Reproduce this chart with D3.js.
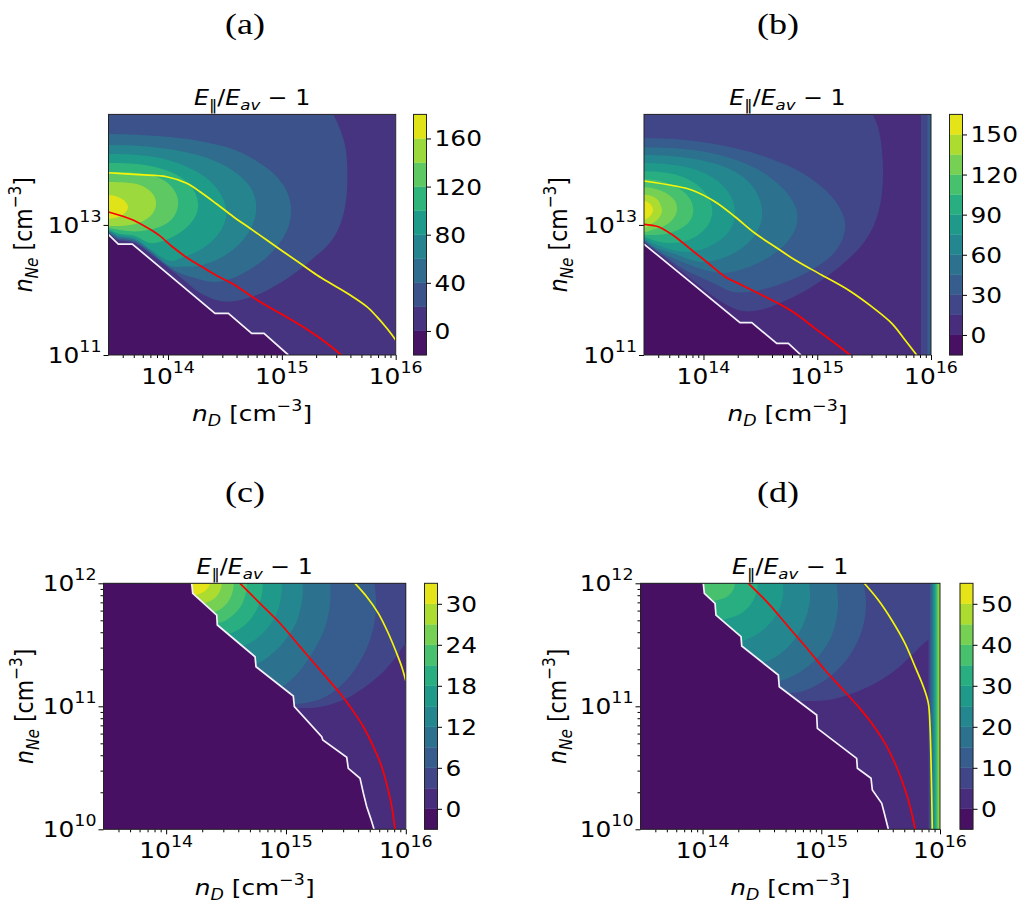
<!DOCTYPE html>
<html><head><meta charset="utf-8">
<script src="https://cdn.jsdelivr.net/npm/d3@7/dist/d3.min.js"></script>
<style>
html,body{margin:0;padding:0;background:#fff;}
svg text{font-family:"DejaVu Sans",sans-serif;fill:#000;}
</style></head><body>
<svg id="fig" width="1025" height="912" xmlns="http://www.w3.org/2000/svg"></svg>
<script>
// ---------------- DATA (points are [log10 nD, log10 nNe]) ----------------
const ND_DOMAIN = [3e13, 1e16];
const NNE_DOMAIN_TOP = [1e11, 5e14];
const NNE_DOMAIN_BOTTOM = [1e10, 1e12];
const X_MAJOR = [1e14, 1e15, 1e16];
const X_MAJOR_EXP = ["14", "15", "16"];
const X_MINOR = [4e13,5e13,6e13,7e13,8e13,9e13,2e14,3e14,4e14,5e14,6e14,7e14,8e14,9e14,2e15,3e15,4e15,5e15,6e15,7e15,8e15,9e15];
const Y_MAJOR_TOP = [1e11, 1e13];
const Y_MAJOR_TOP_EXP = ["11", "13"];
const Y_MAJOR_BOTTOM = [1e10, 1e11, 1e12];
const Y_MAJOR_BOTTOM_EXP = ["10", "11", "12"];
const Y_MINOR_BOTTOM = [2e10,3e10,4e10,5e10,6e10,7e10,8e10,9e10,2e11,3e11,4e11,5e11,6e11,7e11,8e11,9e11];
const PANEL_LABELS = ["(a)", "(b)", "(c)", "(d)"];

const LEVELS_A = [-20,0,20,40,60,80,100,120,140,160,180];
const CB_TICKS_A = [0,40,80,120,160];
const LEVELS_B = [-15,0,15,30,45,60,75,90,105,120,135,150,165];
const CB_TICKS_B = [0,30,60,90,120,150];
const LEVELS_C = [-3,0,3,6,9,12,15,18,21,24,27,30,33];
const CB_TICKS_C = [0,6,12,18,24,30];
const LEVELS_D = [-5,0,5,10,15,20,25,30,35,40,45,50,55];
const CB_TICKS_D = [0,10,20,30,40,50];

// ---- panel (a)
const A_WHITE = [[13.477,12.852],[13.563,12.706],[13.686,12.706],[14.413,11.641],[14.530,11.641],[14.735,11.334],[14.843,11.334],[15.057,11.0]];
const A_RED = [[13.477,13.198],[13.675,13.086],[13.807,12.968],[13.923,12.840],[14.041,12.660],[14.158,12.507],[14.275,12.379],[14.422,12.225],[14.568,12.096],[14.656,11.995],[14.782,11.846],[14.984,11.641],[15.160,11.461],[15.336,11.257],[15.511,11.015],[15.528,10.985]];
const A_YELLOW = [[13.477,13.802],[13.745,13.772],[13.988,13.741],[14.164,13.640],[14.281,13.510],[14.428,13.321],[14.574,13.126],[14.720,12.948],[14.867,12.768],[15.013,12.588],[15.160,12.410],[15.307,12.230],[15.452,12.076],[15.599,11.922],[15.746,11.743],[15.834,11.589],[15.922,11.410],[16.0,11.231]];
const A_CONTOURS = [
 {level:20, corners:["tl"], pts:[[15.423,14.797],[15.503,14.510],[15.558,14.202],[15.575,13.793],[15.564,13.383],[15.517,13.025],[15.430,12.742],[15.292,12.511],[15.131,12.281],[14.955,12.076],[14.779,11.922],[14.604,11.835],[14.457,11.830],[14.281,11.953],[14.149,12.138],[14.017,12.322],[13.842,12.560],[13.710,12.722],[13.622,12.753],[13.561,12.768],[13.473,12.868],[13.402,12.868]]},
 {level:40, corners:[], pts:[[13.402,14.397],[13.666,14.390],[14.017,14.351],[14.325,14.274],[14.589,14.151],[14.791,13.967],[14.949,13.752],[15.046,13.506],[15.081,13.260],[15.063,12.998],[14.993,12.753],[14.879,12.522],[14.738,12.337],[14.571,12.184],[14.395,12.122],[14.237,12.184],[14.123,12.245],[14.017,12.345],[13.842,12.583],[13.710,12.745],[13.622,12.776],[13.561,12.791],[13.473,12.883],[13.402,12.883]]},
 {level:60, corners:[], pts:[[13.402,14.228],[13.754,14.213],[14.105,14.136],[14.369,14.013],[14.562,13.844],[14.703,13.629],[14.764,13.414],[14.773,13.198],[14.738,12.983],[14.659,12.768],[14.545,12.583],[14.404,12.445],[14.264,12.368],[14.140,12.361],[14.017,12.368],[13.842,12.606],[13.710,12.768],[13.622,12.799],[13.561,12.814],[13.473,12.899],[13.402,12.899]]},
 {level:80, corners:[], pts:[[13.402,14.090],[13.666,14.082],[13.930,14.028],[14.149,13.906],[14.325,13.736],[14.439,13.537],[14.501,13.321],[14.510,13.121],[14.466,12.922],[14.378,12.737],[14.264,12.599],[14.140,12.507],[14.017,12.445],[13.842,12.630],[13.710,12.791],[13.622,12.822],[13.561,12.837],[13.473,12.914],[13.402,12.914]]},
 {level:100, corners:[], pts:[[13.402,13.952],[13.666,13.944],[13.886,13.890],[14.061,13.783],[14.184,13.629],[14.246,13.460],[14.264,13.291],[14.237,13.121],[14.167,12.968],[14.070,12.845],[13.956,12.753],[13.842,12.722],[13.710,12.829],[13.622,12.852],[13.561,12.868],[13.473,12.929],[13.402,12.929]]},
 {level:120, corners:[], pts:[[13.402,13.813],[13.666,13.806],[13.842,13.767],[13.974,13.675],[14.053,13.537],[14.088,13.383],[14.079,13.229],[14.035,13.091],[13.947,12.983],[13.824,12.922],[13.710,12.899],[13.578,12.922],[13.473,12.952],[13.402,12.952]]},
 {level:140, corners:[], pts:[[13.402,13.660],[13.622,13.652],[13.754,13.613],[13.842,13.521],[13.886,13.414],[13.894,13.306],[13.868,13.183],[13.798,13.075],[13.692,13.006],[13.578,12.983],[13.473,12.983],[13.402,12.983]]},
 {level:160, corners:[], pts:[[13.402,13.460],[13.517,13.452],[13.596,13.398],[13.640,13.321],[13.648,13.260],[13.622,13.183],[13.561,13.121],[13.473,13.091],[13.402,13.091]]}
];

// ---- panel (b)
const B_WHITE = [[13.477,12.706],[14.321,11.497],[14.424,11.497],[14.644,11.180],[14.746,11.180],[14.857,11.0]];
const B_RED = [[13.477,13.009],[13.603,12.972],[13.750,12.819],[13.896,12.614],[14.042,12.410],[14.189,12.204],[14.336,12.076],[14.482,11.949],[14.629,11.819],[14.805,11.641],[14.980,11.410],[15.156,11.180],[15.288,11.0]];
const B_YELLOW = [[13.477,13.675],[13.750,13.598],[13.896,13.537],[14.101,13.357],[14.277,13.126],[14.453,12.871],[14.629,12.665],[14.805,12.460],[15.039,12.230],[15.273,11.999],[15.479,11.743],[15.655,11.487],[15.772,11.231],[15.874,11.0]];
const B_CONTOURS = [
 {level:15, corners:["tl"], pts:[[15.464,14.797],[15.534,14.505],[15.569,14.151],[15.578,13.767],[15.561,13.383],[15.499,12.998],[15.393,12.691],[15.244,12.430],[15.068,12.184],[14.875,11.969],[14.673,11.799],[14.497,11.692],[14.339,11.676],[14.189,11.784],[14.013,11.999],[13.837,12.245],[13.662,12.488],[13.547,12.637],[13.477,12.722],[13.407,12.722]]},
 {level:15, corners:["tr","br"], pts:[[15.912,10.9],[15.912,14.8]]},
 {level:30, corners:[], pts:[[13.407,14.336],[13.793,14.313],[14.145,14.228],[14.497,14.075],[14.805,13.859],[15.042,13.583],[15.182,13.306],[15.244,13.045],[15.226,12.799],[15.147,12.568],[15.007,12.368],[14.831,12.199],[14.629,12.061],[14.426,11.976],[14.259,11.969],[14.101,12.091],[13.969,12.199],[13.837,12.307],[13.662,12.514],[13.547,12.653],[13.477,12.737],[13.407,12.737]]},
 {level:30, corners:["tr","br"], pts:[[15.969,10.9],[15.969,14.8]]},
 {level:45, corners:[], pts:[[13.407,14.198],[13.706,14.182],[13.969,14.136],[14.233,14.028],[14.470,13.859],[14.637,13.660],[14.761,13.429],[14.822,13.198],[14.813,12.968],[14.743,12.753],[14.629,12.568],[14.479,12.414],[14.321,12.307],[14.163,12.261],[14.013,12.307],[13.881,12.384],[13.750,12.476],[13.635,12.568],[13.547,12.668],[13.477,12.753],[13.407,12.753]]},
 {level:60, corners:[], pts:[[13.407,14.075],[13.706,14.059],[13.969,13.998],[14.189,13.890],[14.347,13.736],[14.453,13.537],[14.506,13.321],[14.514,13.121],[14.479,12.922],[14.400,12.737],[14.286,12.583],[14.145,12.476],[13.996,12.430],[13.864,12.476],[13.750,12.553],[13.635,12.614],[13.547,12.683],[13.477,12.768],[13.407,12.768]]},
 {level:75, corners:[], pts:[[13.407,13.952],[13.662,13.936],[13.881,13.875],[14.057,13.752],[14.180,13.583],[14.251,13.398],[14.277,13.198],[14.259,13.014],[14.198,12.845],[14.092,12.706],[13.969,12.614],[13.846,12.583],[13.732,12.614],[13.618,12.676],[13.530,12.737],[13.477,12.791],[13.407,12.791]]},
 {level:90, corners:[], pts:[[13.407,13.829],[13.618,13.813],[13.793,13.752],[13.934,13.629],[14.031,13.460],[14.075,13.275],[14.066,13.091],[14.013,12.937],[13.925,12.814],[13.811,12.737],[13.688,12.722],[13.582,12.753],[13.477,12.814],[13.407,12.814]]},
 {level:105, corners:[], pts:[[13.407,13.706],[13.574,13.690],[13.723,13.613],[13.837,13.490],[13.899,13.337],[13.908,13.183],[13.873,13.045],[13.793,12.937],[13.688,12.868],[13.582,12.845],[13.477,12.845],[13.407,12.845]]},
 {level:120, corners:[], pts:[[13.407,13.583],[13.547,13.567],[13.670,13.490],[13.750,13.367],[13.767,13.229],[13.732,13.091],[13.653,12.983],[13.547,12.922],[13.477,12.883],[13.407,12.883]]},
 {level:135, corners:[], pts:[[13.407,13.475],[13.512,13.460],[13.591,13.398],[13.626,13.291],[13.635,13.198],[13.600,13.091],[13.530,12.998],[13.477,12.952],[13.407,12.952]]},
 {level:150, corners:[], pts:[[13.407,13.383],[13.486,13.367],[13.539,13.306],[13.556,13.229],[13.539,13.152],[13.486,13.083],[13.407,13.060]]}
];

// ---- panel (c)
const C_WHITE = [[14.213,12.0],[14.222,11.919],[14.422,11.742],[14.427,11.661],[14.742,11.403],[14.750,11.322],[15.061,11.084],[15.070,10.997],[15.298,10.753],[15.307,10.726],[15.507,10.585],[15.520,10.496],[15.618,10.415],[15.646,10.293],[15.674,10.184],[15.707,10.089],[15.735,10.0]];
const C_RED = [[14.616,12.0],[14.783,11.837],[14.950,11.675],[15.117,11.485],[15.284,11.295],[15.451,11.106],[15.535,10.997],[15.646,10.834],[15.729,10.672],[15.799,10.509],[15.846,10.346],[15.883,10.184],[15.910,10.0]];
const C_YELLOW = [[15.576,12.0],[15.674,11.891],[15.771,11.756],[15.854,11.594],[15.924,11.431],[15.966,11.322],[16.0,11.208]];
const C_CONTOURS = [
 {level:3, corners:["tl","tr"], pts:[[16.052,11.539],[15.994,11.507],[15.919,11.401],[15.810,11.279],[15.660,11.157],[15.493,11.059],[15.326,11.002],[15.217,10.986],[15.117,10.986],[15.034,10.986]]},
 {level:6, corners:["tl"], pts:[[15.727,12.068],[15.752,11.864],[15.735,11.661],[15.660,11.441],[15.535,11.246],[15.393,11.116],[15.268,11.051],[15.159,11.027],[15.084,11.019],[15.034,11.019]]},
 {level:9, corners:["tl"], pts:[[15.368,12.068],[15.368,11.840],[15.318,11.620],[15.209,11.417],[15.084,11.254],[14.975,11.165],[14.934,11.157]]},
 {level:12, corners:["tl"], pts:[[15.142,12.068],[15.134,11.864],[15.084,11.677],[14.975,11.515],[14.850,11.401],[14.767,11.352],[14.717,11.352]]},
 {level:15, corners:["tl"], pts:[[14.967,12.068],[14.959,11.889],[14.909,11.726],[14.808,11.596],[14.700,11.515],[14.616,11.482]]},
 {level:18, corners:["tl"], pts:[[14.808,12.068],[14.800,11.913],[14.750,11.775],[14.666,11.669],[14.566,11.604],[14.491,11.580]]},
 {level:21, corners:["tl"], pts:[[14.675,12.068],[14.666,11.929],[14.625,11.815],[14.550,11.734],[14.466,11.685],[14.383,11.669]]},
 {level:24, corners:["tl"], pts:[[14.566,12.068],[14.558,11.946],[14.516,11.848],[14.441,11.783],[14.366,11.759]]},
 {level:27, corners:["tl"], pts:[[14.466,12.068],[14.458,11.962],[14.416,11.889],[14.349,11.848],[14.266,11.832]]},
 {level:30, corners:["tl"], pts:[[14.374,12.068],[14.366,11.994],[14.333,11.946],[14.274,11.913],[14.199,11.897]]}
];

// ---- panel (d)
const D_WHITE = [[14.006,12.0],[14.015,11.919],[14.105,11.837],[14.113,11.742],[14.324,11.566],[14.330,11.490],[14.638,11.254],[14.646,11.159],[14.961,10.929],[14.967,10.821],[15.298,10.577],[15.304,10.496],[15.419,10.415],[15.430,10.320],[15.509,10.211],[15.531,10.130],[15.565,10.0]];
const D_RED = [[14.385,12.0],[14.554,11.837],[14.722,11.647],[14.891,11.458],[15.031,11.295],[15.172,11.146],[15.312,10.997],[15.425,10.862],[15.537,10.699],[15.621,10.537],[15.678,10.401],[15.733,10.238],[15.775,10.076],[15.790,10.0]];
const D_YELLOW = [[15.362,12.0],[15.480,11.864],[15.593,11.702],[15.705,11.512],[15.790,11.322],[15.860,11.159],[15.902,11.024],[15.916,10.834],[15.924,10.563],[15.930,10.293],[15.935,10.0]];
const D_CONTOURS = [
 {level:5, corners:["tl","tr"], pts:[[16.042,11.604],[15.899,11.539],[15.764,11.417],[15.604,11.279],[15.410,11.165],[15.225,11.092],[15.057,11.051],[14.922,11.043],[14.779,11.043]]},
 {level:10, corners:["tl"], pts:[[15.343,12.068],[15.377,11.840],[15.343,11.620],[15.242,11.417],[15.099,11.263],[14.947,11.165],[14.821,11.116],[14.686,11.108]]},
 {level:15, corners:["tl"], pts:[[15.116,12.068],[15.141,11.824],[15.090,11.580],[14.972,11.401],[14.821,11.279],[14.678,11.214],[14.585,11.206]]},
 {level:20, corners:["tl"], pts:[[14.888,12.068],[14.905,11.864],[14.846,11.661],[14.737,11.498],[14.585,11.385],[14.450,11.344],[14.383,11.344]]},
 {level:25, corners:["tl"], pts:[[14.669,12.068],[14.678,11.897],[14.619,11.742],[14.509,11.620],[14.383,11.547],[14.298,11.523]]},
 {level:30, corners:["tl"], pts:[[14.459,12.068],[14.459,11.946],[14.408,11.832],[14.315,11.750],[14.197,11.710],[14.113,11.702]]},
 {level:35, corners:["tl"], pts:[[14.273,12.068],[14.265,11.962],[14.214,11.897],[14.130,11.864],[14.063,11.856]]},
 {level:5, corners:["tr","br"], pts:[[15.903,9.9],[15.903,12.1]]},
 {level:10, corners:["tr","br"], pts:[[15.916,9.9],[15.916,12.1]]},
 {level:15, corners:["tr","br"], pts:[[15.929,9.9],[15.929,12.1]]},
 {level:20, corners:["tr","br"], pts:[[15.940,9.9],[15.940,12.1]]},
 {level:25, corners:["tr","br"], pts:[[15.950,9.9],[15.950,12.1]]},
 {level:30, corners:["tr","br"], pts:[[15.960,9.9],[15.960,12.1]]},
 {level:35, corners:["tr","br"], pts:[[15.970,9.9],[15.970,12.1]]},
 {level:40, corners:["tr","br"], pts:[[15.980,9.9],[15.980,12.1]]},
 {level:45, corners:["tr","br"], pts:[[15.990,9.9],[15.990,12.1]]}
];

// ---------------- LAYOUT ----------------
const FS = 22, TFS = 21, SX = 1.13;
const svg = d3.select("#fig");
const defs = svg.append("defs");

const PANELS = [
 {id:"a", label:PANEL_LABELS[0], labelPos:[245,34], xr:[108.5,395.7], yr:[355,114.4], yDomain:NNE_DOMAIN_TOP,
  yMajor:Y_MAJOR_TOP, yMajorExp:Y_MAJOR_TOP_EXP, yMinor:[], levels:LEVELS_A, cbTicks:CB_TICKS_A, cbX:413.5,
  contours:A_CONTOURS, white:A_WHITE, red:A_RED, yellow:A_YELLOW, darkCorners:["bl"], ylabX:32},
 {id:"b", label:PANEL_LABELS[1], labelPos:[778,34], xr:[644,931], yr:[355,114.4], yDomain:NNE_DOMAIN_TOP,
  yMajor:Y_MAJOR_TOP, yMajorExp:Y_MAJOR_TOP_EXP, yMinor:[], levels:LEVELS_B, cbTicks:CB_TICKS_B, cbX:949.5,
  contours:B_CONTOURS, white:B_WHITE, red:B_RED, yellow:B_YELLOW, darkCorners:["bl"], ylabX:567},
 {id:"c", label:PANEL_LABELS[2], labelPos:[245,502], xr:[103.5,405.8], yr:[829.3,583.3], yDomain:NNE_DOMAIN_BOTTOM,
  yMajor:Y_MAJOR_BOTTOM, yMajorExp:Y_MAJOR_BOTTOM_EXP, yMinor:Y_MINOR_BOTTOM, levels:LEVELS_C, cbTicks:CB_TICKS_C, cbX:424.5,
  contours:C_CONTOURS, white:C_WHITE, red:C_RED, yellow:C_YELLOW, darkCorners:["bl","tl"], ylabX:33},
 {id:"d", label:PANEL_LABELS[3], labelPos:[778,502], xr:[640.5,940], yr:[829.3,583.3], yDomain:NNE_DOMAIN_BOTTOM,
  yMajor:Y_MAJOR_BOTTOM, yMajorExp:Y_MAJOR_BOTTOM_EXP, yMinor:Y_MINOR_BOTTOM, levels:LEVELS_D, cbTicks:CB_TICKS_D, cbX:960,
  contours:D_CONTOURS, white:D_WHITE, red:D_RED, yellow:D_YELLOW, darkCorners:["bl","tl"], ylabX:566}
];

// text with the reference's slight horizontal stretch
function stext(parent, x, y, anchor, size, sx, extra) {
  const g = parent.append("g").attr("transform", `translate(${x},${y}) scale(${sx},1)` + (extra || ""));
  return g.append("text").attr("x", 0).attr("y", 0).attr("text-anchor", anchor).attr("font-size", size);
}
function powLabel(t, exp) {
  t.append("tspan").text("10");
  t.append("tspan").attr("font-size", FS * 0.7).attr("dy", -11).text(exp);
}
function unitLabel(t, sym, sub) {
  t.append("tspan").attr("font-style", "italic").text(sym);
  t.append("tspan").attr("font-style", "italic").attr("font-size", FS * 0.7).attr("dy", 5).text(sub);
  t.append("tspan").attr("dy", -5).text(" [cm");
  t.append("tspan").attr("font-size", FS * 0.7).attr("dy", -10).text("\u22123");
  t.append("tspan").attr("dy", 10).text("]");
}

function drawPanel(P) {
  const x = d3.scaleLog().domain(ND_DOMAIN).range(P.xr);
  const y = d3.scaleLog().domain(P.yDomain).range(P.yr);
  const nb = P.levels.length - 1;
  const col = i => d3.interpolateViridis((i + 0.5) / nb);
  const [x0, x1] = P.xr, [yb, yt] = P.yr;
  const clipId = "clip-" + P.id;
  defs.append("clipPath").attr("id", clipId).append("rect")
    .attr("x", x0).attr("y", yt).attr("width", x1 - x0).attr("height", yb - yt);
  const g = svg.append("g").attr("clip-path", `url(#${clipId})`);
  const pad = 40;
  const corner = {tl:[x0-pad, yt-pad], tr:[x1+pad, yt-pad], bl:[x0-pad, yb+pad], br:[x1+pad, yb+pad]};
  const px = d => x(Math.pow(10, d[0])), py = d => y(Math.pow(10, d[1]));
  const smooth = d3.line().x(px).y(py).curve(d3.curveCatmullRom.alpha(0.5));
  const straight = d3.line().x(px).y(py);
  const closeVia = ks => ks.map(k => "L" + corner[k].join(",")).join("") + "Z";

  g.append("rect").attr("x", x0).attr("y", yt).attr("width", x1 - x0).attr("height", yb - yt).attr("fill", col(1));
  P.contours.slice().sort((a, b) => a.level - b.level).forEach(c => {
    g.append("path").attr("d", smooth(c.pts) + closeVia(c.corners))
      .attr("fill", col(P.levels.indexOf(c.level)));
  });
  g.append("path").attr("d", straight(P.white) + closeVia(P.darkCorners)).attr("fill", col(0));
  g.append("path").attr("d", straight(P.white)).attr("fill", "none").attr("stroke", "#f4f1fa").attr("stroke-width", 1.7);
  g.append("path").attr("d", smooth(P.red)).attr("fill", "none").attr("stroke", "#f00").attr("stroke-width", 1.7);
  g.append("path").attr("d", smooth(P.yellow)).attr("fill", "none").attr("stroke", "#f5f50a").attr("stroke-width", 1.7);

  // axes
  const ax = svg.append("g");
  const xa = ax.append("g").attr("transform", `translate(0,${yb})`)
    .call(d3.axisBottom(x).tickValues(X_MAJOR).tickSize(5).tickFormat(""));
  xa.select(".domain").remove();
  const xm = ax.append("g").attr("transform", `translate(0,${yb})`)
    .call(d3.axisBottom(x).tickValues(X_MINOR).tickSize(3).tickFormat(""));
  xm.select(".domain").remove();
  const ya = ax.append("g").attr("transform", `translate(${x0},0)`)
    .call(d3.axisLeft(y).tickValues(P.yMajor).tickSize(5).tickFormat(""));
  ya.select(".domain").remove();
  if (P.yMinor.length) {
    const ym = ax.append("g").attr("transform", `translate(${x0},0)`)
      .call(d3.axisLeft(y).tickValues(P.yMinor).tickSize(3).tickFormat(""));
    ym.select(".domain").remove();
  }
  ax.selectAll("line").attr("stroke", "#000").attr("stroke-width", 1);
  ax.selectAll(".tick text").remove();
  X_MAJOR.forEach((v, i) => powLabel(stext(ax, x(v), yb + 29, "middle", FS, SX), X_MAJOR_EXP[i]));
  P.yMajor.forEach((v, i) => powLabel(stext(ax, x0 - 7, y(v) + 8, "end", FS, SX), P.yMajorExp[i]));
  ax.append("rect").attr("x", x0).attr("y", yt).attr("width", x1 - x0).attr("height", yb - yt)
    .attr("fill", "none").attr("stroke", "#222").attr("stroke-width", 1);

  // axis labels
  unitLabel(stext(ax, (x0 + x1) / 2, yb + 66, "middle", FS, SX), "n", "D");
  unitLabel(stext(ax, P.ylabX, (yb + yt) / 2, "middle", FS, SX, " rotate(-90)"), "n", "Ne");

  // title
  const tt = stext(ax, (x0 + x1) / 2, yt - 9.5, "middle", TFS, SX);
  tt.append("tspan").attr("font-style", "italic").text("E");
  tt.append("tspan").attr("font-size", TFS * 0.7).attr("dy", 5).attr("fill", "#000").text("\u2016");
  tt.append("tspan").attr("dy", -5).text("/");
  tt.append("tspan").attr("font-style", "italic").text("E");
  tt.append("tspan").attr("font-style", "italic").attr("font-size", TFS * 0.7).attr("dy", 5).text("av");
  tt.append("tspan").attr("dy", -5).text(" \u2212 1");

  // panel label
  stext(svg, P.labelPos[0], P.labelPos[1], "middle", 30, 1.2)
    .style("font-family", "'Liberation Serif','Times New Roman',serif").text(P.label);

  // colorbar
  const cbW = 13;
  const cy = d3.scaleLinear().domain([P.levels[0], P.levels[nb]]).range([yb, yt]);
  const cb = svg.append("g");
  for (let i = 0; i < nb; i++) {
    cb.append("rect").attr("x", P.cbX).attr("y", cy(P.levels[i + 1])).attr("width", cbW)
      .attr("height", cy(P.levels[i]) - cy(P.levels[i + 1])).attr("fill", col(i))
      .attr("stroke", col(i)).attr("stroke-width", 0.3);
  }
  cb.append("rect").attr("x", P.cbX).attr("y", yt).attr("width", cbW).attr("height", yb - yt)
    .attr("fill", "none").attr("stroke", "#222").attr("stroke-width", 1);
  const ca = cb.append("g").attr("transform", `translate(${P.cbX + cbW},0)`)
    .call(d3.axisRight(cy).tickValues(P.cbTicks).tickSize(4.5).tickFormat(""));
  ca.select(".domain").remove();
  ca.selectAll("line").attr("stroke", "#000");
  ca.selectAll(".tick text").remove();
  P.cbTicks.forEach(v => stext(cb, P.cbX + cbW + 8, cy(v) + 8, "start", FS, SX).text(String(v)));
}

PANELS.forEach(drawPanel);
</script>
</body></html>
